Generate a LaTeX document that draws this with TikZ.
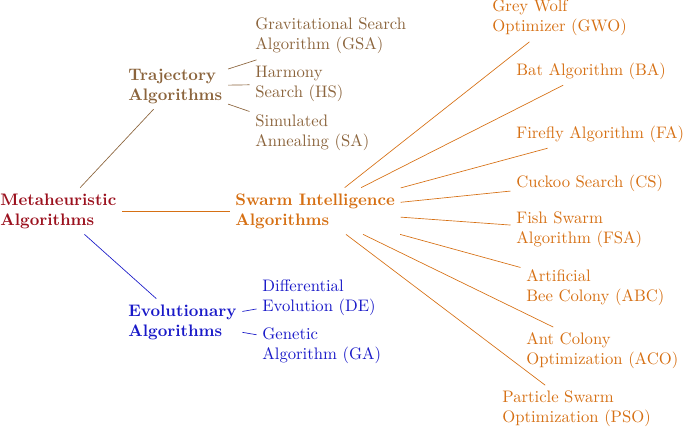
\documentclass[tikz,border=0pt]{standalone}
\definecolor{metac}{RGB}{155,17,30}
\definecolor{trajc}{RGB}{139,100,60}
\definecolor{swarmc}{RGB}{214,112,20}
\definecolor{evolc}{RGB}{25,25,200}
\begin{document}
\begin{tikzpicture}[x=0.6pt,y=-0.6pt,
  lbl/.style={anchor=west,align=left},
  head/.style={lbl,font=\bfseries},
  trajl/.style={lbl,text=trajc},
  swarml/.style={lbl,text=swarmc},
  evoll/.style={lbl,text=evolc}]
\useasboundingbox (0,0) rectangle (685,428);
\node[head,text=metac] (meta) at (-5.5,211) {Metaheuristic\\Algorithms};
\node[head,text=trajc] (traj) at (122.5,86) {Trajectory\\Algorithms};
\node[head,text=swarmc] (swarm) at (229.5,211) {Swarm Intelligence\\Algorithms};
\node[head,text=evolc] (evol) at (122.5,322) {Evolutionary\\Algorithms};
\node[trajl] (gsa) at (249.5,36) {Gravitational Search\\Algorithm (GSA)};
\node[trajl] (hs) at (249.5,84) {Harmony\\Search (HS)};
\node[trajl] (sa) at (249.5,133) {Simulated\\Annealing (SA)};
\node[evoll] (de) at (256.5,298) {Differential\\Evolution (DE)};
\node[evoll] (ga) at (256.5,346) {Genetic\\Algorithm (GA)};
\node[swarml] (gwo) at (486.5,18) {Grey Wolf\\Optimizer (GWO)};
\node[swarml] (ba) at (510.5,71) {Bat Algorithm (BA)};
\node[swarml] (fa) at (510.5,134) {Firefly Algorithm (FA)};
\node[swarml] (cs) at (510.5,183) {Cuckoo Search (CS)};
\node[swarml] (fsa) at (510.5,230) {Fish Swarm\\Algorithm (FSA)};
\node[swarml] (abc) at (520.5,288) {Artificial\\Bee Colony (ABC)};
\node[swarml] (aco) at (520.5,351) {Ant Colony\\Optimization (ACO)};
\node[swarml] (pso) at (496.5,409) {Particle Swarm\\Optimization (PSO)};
\draw[trajc] (meta) -- (traj);
\draw[swarmc] (meta) -- (swarm);
\draw[evolc] (meta) -- (evol);
\foreach \t in {gsa,hs,sa} \draw[trajc] (traj) -- (\t);
\foreach \t in {de,ga} \draw[evolc] (evol) -- (\t);
\foreach \t in {gwo,ba,fa,cs,fsa,abc,aco,pso} \draw[swarmc] (swarm) -- (\t);
\end{tikzpicture}
\end{document}
